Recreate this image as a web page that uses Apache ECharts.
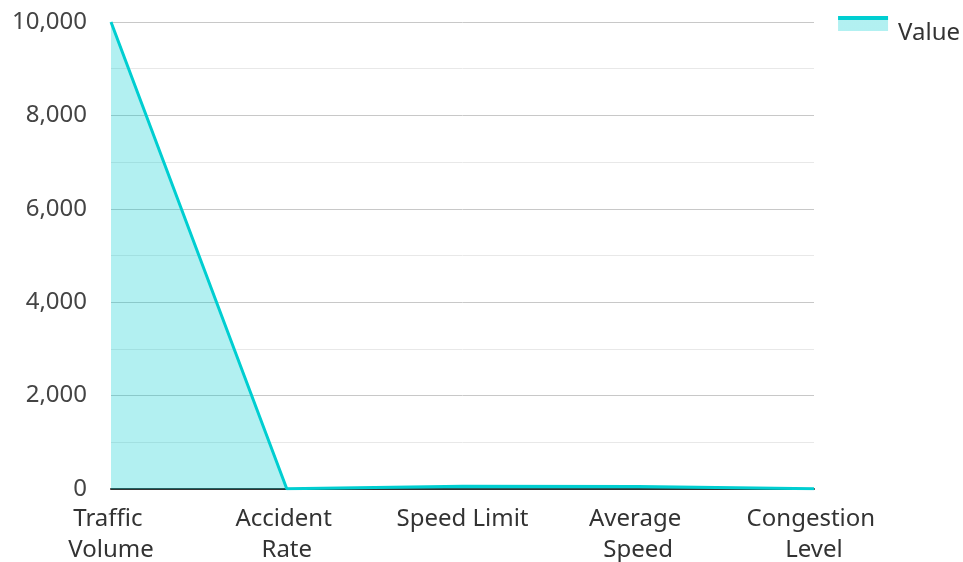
<!DOCTYPE html>
<html><head><meta charset="utf-8">
<script src="https://cdn.jsdelivr.net/npm/echarts@6/dist/echarts.min.js"></script>
<style>html,body{margin:0;padding:0;background:#fff}#c{width:963px;height:562px}</style>
</head><body><div id="c"></div>
<script>
const categories = ['Traffic Volume', 'Accident Rate', 'Speed Limit', 'Average Speed', 'Congestion Level'];
const values = [10000, 5, 60, 55, 8];
const seriesName = 'Value';
const chart = echarts.init(document.getElementById('c'));
chart.setOption({
  textStyle: {fontFamily: 'Noto Sans'},
  legend: {
    right: 3, top: 16, padding: 0, itemWidth: 50, itemHeight: 35, itemGap: 10,
    icon: 'path://M0,0H50V15H0Z M0,35H0.01V34.99Z',
    itemStyle: {
      color: new echarts.graphic.LinearGradient(0, 0, 0, 1, [
        {offset: 0, color: '#00CED1'}, {offset: 0.115, color: '#00CED1'},
        {offset: 0.115, color: 'rgba(0,206,209,0.3)'}, {offset: 0.43, color: 'rgba(0,206,209,0.3)'},
        {offset: 0.43, color: 'rgba(0,206,209,0)'}, {offset: 1, color: 'rgba(0,206,209,0)'}
      ])
    },
    textStyle: {fontSize: 24, color: '#333', fontFamily: 'Noto Sans', padding: [0, 0, 0, 5]},
    data: [seriesName]
  },
  grid: {left: 111, right: 149, top: 22, bottom: 73, containLabel: false, outerBoundsMode: 'none'},
  xAxis: {
    type: 'category', data: categories, boundaryGap: false,
    axisLine: {lineStyle: {color: '#333', width: 2}},
    axisTick: {show: false},
    axisLabel: {fontSize: 24, color: '#333', width: 148, overflow: 'break', lineHeight: 31, margin: 15, interval: 0}
  },
  yAxis: {
    type: 'value', min: 0, max: 10000, interval: 2000,
    axisLine: {show: false}, axisTick: {show: false},
    axisLabel: {fontSize: 24, color: '#444', margin: 24, formatter: v => v.toLocaleString('en-US')},
    splitLine: {lineStyle: {color: '#c8c8c8', width: 1}},
    minorTick: {show: false, splitNumber: 2},
    minorSplitLine: {show: true, lineStyle: {color: '#e8e8e8', width: 1}}
  },
  series: [{
    name: seriesName, type: 'line', data: values,
    symbol: 'none', smooth: false,
    lineStyle: {color: '#00CED1', width: 3},
    itemStyle: {color: '#00CED1'},
    areaStyle: {color: 'rgba(0,206,209,0.3)', opacity: 1}
  }]
});
</script></body></html>
